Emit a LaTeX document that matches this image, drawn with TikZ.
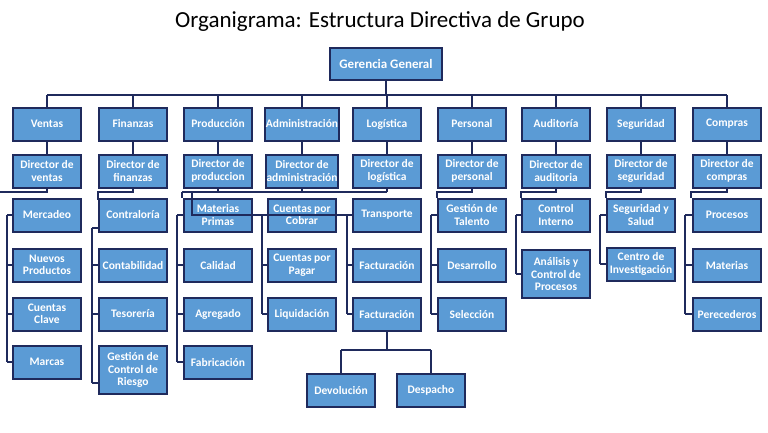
\documentclass[tikz,border=0pt]{standalone}
\usepackage{fontspec}
\setmainfont{Carlito}
\begin{document}
\begin{tikzpicture}[x=1pt,y=-1pt,
 bx/.style={draw=navy,line width=2pt,fill=boxb,text=white,minimum width=68pt,minimum height=33pt,align=center,font=\bfseries\fontsize{11.5}{12.5}\selectfont,inner sep=1pt},
 ln/.style={draw=navy,line width=1.4pt}]
\definecolor{navy}{HTML}{1F2A5C}
\definecolor{boxb}{HTML}{5B9BD5}
\useasboundingbox (0,0) rectangle (768,432);
\node[font=\fontsize{23}{25}\selectfont] (title) at (380,21) {Organigrama: Estructura Directiva de Grupo};
\node[bx,minimum width=112pt,minimum height=32pt,font=\bfseries\fontsize{13}{14}\selectfont] (g) at (386,64) {Gerencia General};
\def\cols{47/ventas/Ventas/{Director de\\ventas},133/finanzas/Finanzas/{Director de\\finanzas},218/prod/Producción/{Director de\\produccion},302/adm/Administración/{Director de\\administración},387/log/Logística/{Director de\\logística},472/per/Personal/{Director de\\personal},556/aud/Auditoría/{Director de\\auditoria},641/seg/Seguridad/{Director de\\seguridad},727/com/Compras/{Director de\\compras}}
\coordinate (busL) at (47,95); \coordinate (busR) at (727,95);
\draw[ln] (g.south) -- (386,95);
\draw[ln] (busL) -- (busR);
\foreach \x/\n/\a/\b in \cols {
 \node[bx] (\n1) at (\x,124) {\a};
 \node[bx] (\n2) at (\x,171) {\b};
 \draw[ln] (\x,95) -- (\n1.north);
 \draw[ln] (\n1.south) -- (\n2.north);
}
\newcommand\kid[4]{\node[bx] (#1) at (#2,#3) {#4};}
\kid{v1}{47}{215}{Mercadeo}\kid{v2}{47}{265}{Nuevos\\Productos}\kid{v3}{47}{314}{Cuentas\\Clave}\kid{v4}{47}{362}{Marcas}
\kid{f1}{133}{215}{Contraloría}\kid{f2}{133}{265}{Contabilidad}\kid{f3}{133}{314}{Tesorería}
\node[bx,minimum height=48pt] (f4) at (133,370) {Gestión de\\Control de\\Riesgo};
\kid{p1}{218}{215}{Materias\\Primas}\kid{p2}{218}{265}{Calidad}\kid{p3}{218}{314}{Agregado}\kid{p4}{218}{362}{Fabricación}
\kid{a1}{302}{215}{Cuentas por\\Cobrar}\kid{a2}{302}{265}{Cuentas por\\Pagar}\kid{a3}{302}{314}{Liquidación}
\kid{l1}{387}{215}{Transporte}\kid{l2}{387}{265}{Facturación}\kid{l3}{387}{314}{Facturación}
\kid{e1}{472}{215}{Gestión de\\Talento}\kid{e2}{472}{265}{Desarrollo}\kid{e3}{472}{314}{Selección}
\kid{u1}{556}{215}{Control\\Interno}
\node[bx,minimum height=48pt] (u2) at (556,274) {Análisis y\\Control de\\Procesos};
\kid{s1}{641}{215}{Seguridad y\\Salud}\kid{s2}{641}{264}{Centro de\\Investigación}
\kid{c1}{727}{215}{Procesos}\kid{c2}{727}{265}{Materias}\kid{c3}{727}{314}{Perecederos}
\node[bx] (d1) at (341,390) {Devolución};
\node[bx] (d2) at (431,390) {Despacho};
\draw[ln] (ventas2.south) -- (47,192) -- (0,192);
\draw[ln] (7,215) -- (7,362);
\foreach \k in {v1,v2,v3,v4} \draw[ln] (7,0 |- \k.west) -- (\k.west);
\draw[ln] (finanzas2.south) -- (133,192) -- (98,192) -- (98,200);
\draw[ln] (92,228) -- (92,383);
\foreach \k in {f2,f3} \draw[ln] (92,0 |- \k.west) -- (\k.west);
\draw[ln] (92,228) -- (98,228); \draw[ln] (92,383) -- (98,383);
\draw[ln] (prod2.south) -- (218,192); \draw[ln] (182,192) -- (387,192);
\draw[ln] (182,192) -- (182,198); \draw[ln] (192,192) -- (192,215) -- (352,215);
\draw[ln] (adm2.south) -- (302,192); \draw[ln] (log2.south) -- (387,192);
\draw[ln] (177,215) -- (177,362);
\foreach \k in {p1,p2,p3,p4} \draw[ln] (177,0 |- \k.west) -- (\k.west);
\draw[ln] (262,215) -- (262,314);
\foreach \k in {a2,a3} \draw[ln] (262,0 |- \k.west) -- (\k.west);
\draw[ln] (347,215) -- (347,314);
\foreach \k in {l1,l2,l3} \draw[ln] (347,0 |- \k.west) -- (\k.west);
\draw[ln] (l3.south) -- (387,350); \draw[ln] (341,350) -- (431,350);
\draw[ln] (341,350) -- (d1.north); \draw[ln] (431,350) -- (d2.north);
\draw[ln] (per2.south) -- (472,192) -- (437,192) -- (437,198);
\draw[ln] (431,215) -- (431,314);
\foreach \k in {e1,e2,e3} \draw[ln] (431,0 |- \k.west) -- (\k.west);
\draw[ln] (aud2.south) -- (556,192) -- (521,192) -- (521,198);
\draw[ln] (516,215) -- (516,274);
\foreach \k in {u1,u2} \draw[ln] (516,0 |- \k.west) -- (\k.west);
\draw[ln] (seg2.south) -- (641,192) -- (606,192) -- (606,198);
\draw[ln] (600,215) -- (600,264);
\foreach \k in {s1,s2} \draw[ln] (600,0 |- \k.west) -- (\k.west);
\draw[ln] (com2.south) -- (727,192) -- (691,192) -- (691,198);
\draw[ln] (685,215) -- (685,314);
\foreach \k in {c1,c2,c3} \draw[ln] (685,0 |- \k.west) -- (\k.west);
\end{tikzpicture}
\end{document}
